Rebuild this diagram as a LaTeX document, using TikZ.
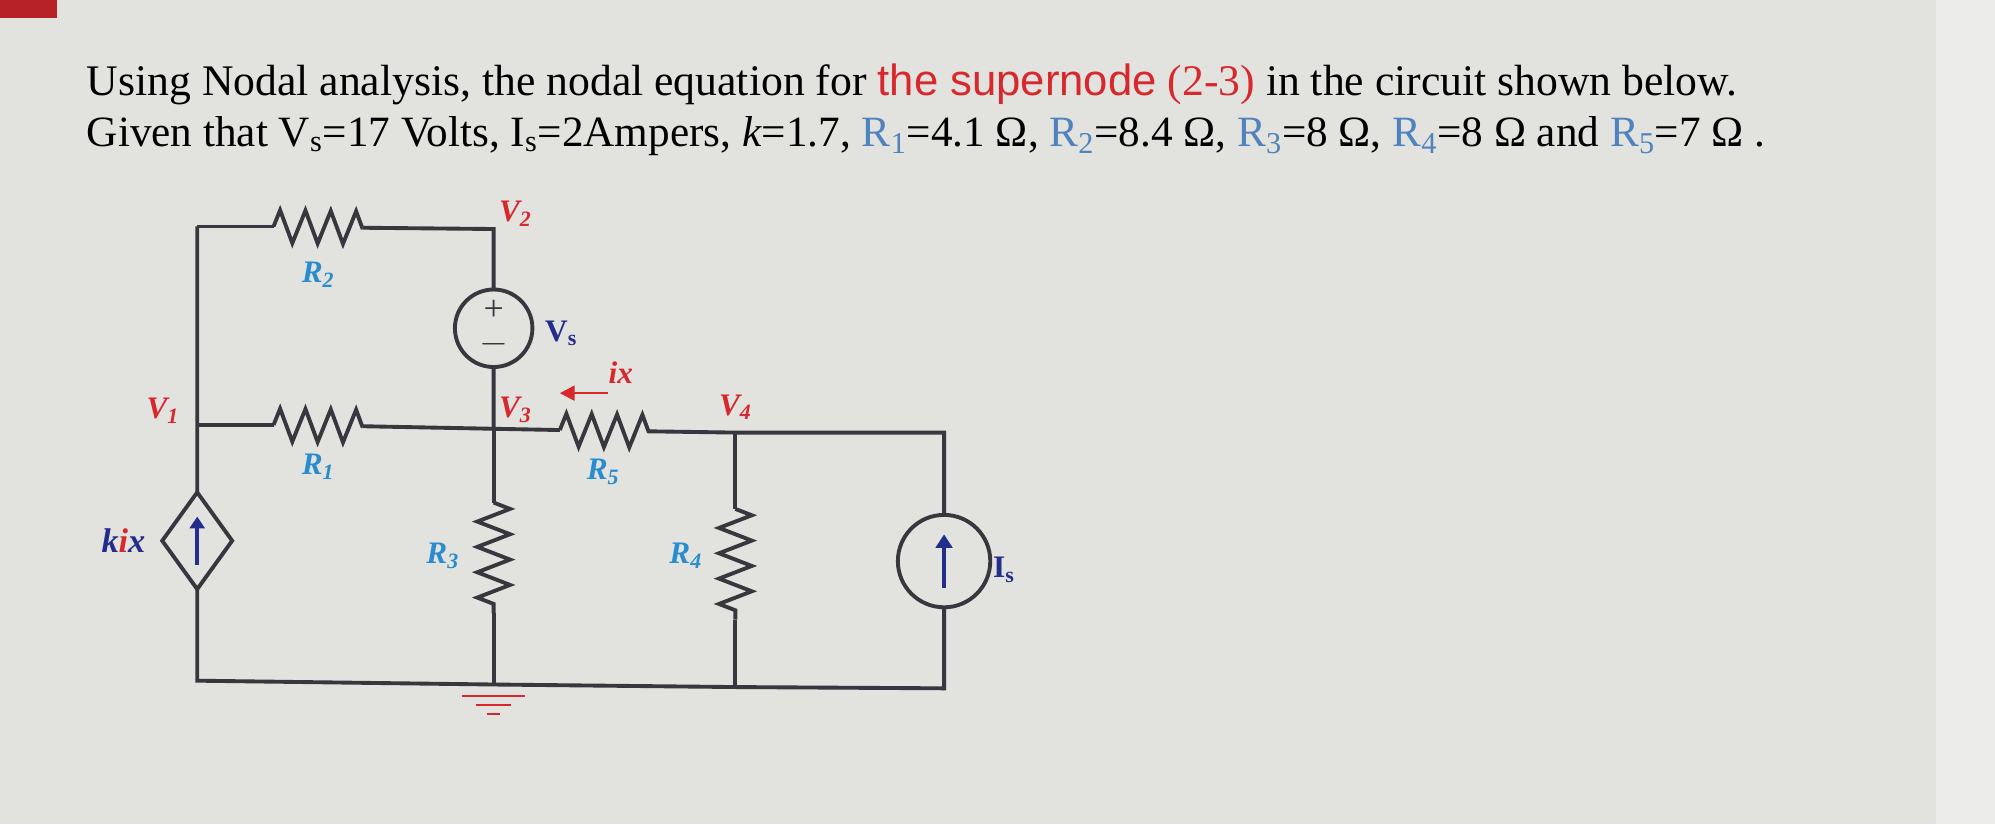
\documentclass[tikz,border=0pt]{standalone}
\usepackage{fontspec}
\setmainfont{Liberation Serif}
\setsansfont{Liberation Sans}
\usetikzlibrary{decorations.pathmorphing,shapes.geometric,arrows.meta}
\definecolor{bg}{RGB}{226,226,223}
\definecolor{wire}{RGB}{55,55,62}
\definecolor{lred}{RGB}{215,40,45}
\definecolor{lblue}{RGB}{40,140,205}
\definecolor{tblue}{RGB}{80,130,190}
\definecolor{dblue}{RGB}{35,45,140}
\newcommand{\Rb}[1]{\textcolor{tblue}{R\textsubscript{#1}}}
\begin{document}
\begin{tikzpicture}[x=0.3mm,y=-0.3mm,
  w/.style={draw=wire,line width=2.6pt},
  res/.style={w,decorate,decoration={zigzag,segment length=17pt,amplitude=11pt}},
  nl/.style={text=lred,font=\itshape\bfseries\fontsize{21}{21}\selectfont,inner sep=0},
  rl/.style={text=lblue,font=\itshape\bfseries\fontsize{21}{21}\selectfont,inner sep=0},
  src/.style={circle,draw=wire,line width=2.6pt,minimum size=#1,inner sep=0,fill=bg}]
\fill[bg] (0,0) rectangle (1568,648);
\useasboundingbox (0,0) rectangle (1568,648);
\fill[white,opacity=0.35] (1522,0) rectangle (1568,648);
\fill[lred!85!black] (0,0) rectangle (45,14);
% title
\node[anchor=base west,inner sep=0,font=\fontsize{29.3}{29}\selectfont] (t1) at (68,75)
 {Using Nodal analysis, the nodal equation for \textcolor{lred}{\sffamily the supernode} \textcolor{lred}{(2-3)} in the circuit shown below.};
\node[anchor=base west,inner sep=0,font=\fontsize{29}{29}\selectfont] (t2) at (68,115)
 {Given that V\textsubscript{s}=17 Volts, I\textsubscript{s}=2Ampers, \textit{k}=1.7, \Rb{1}=4.1 Ω, \Rb{2}=8.4 Ω, \Rb{3}=8 Ω, \Rb{4}=8 Ω and \Rb{5}=7 Ω .};
% coordinates
\coordinate (TL) at (155,178);
\coordinate (V2) at (388,180);
\coordinate (V1) at (155,334);
\coordinate (V3) at (388,337);
\coordinate (V4) at (578,340);
\coordinate (RT) at (742,340);
\coordinate (BL) at (155,535);
\coordinate (B3) at (388,538);
\coordinate (B4) at (578,540);
\coordinate (BR) at (742,541);
% top branch
\draw[w] (TL) -- (215,178);
\draw[res] (215,178) -- (285,179);
\draw[w] (285,179) -- (V2) -- (V3);
% mid branch
\draw[w] (V1) -- (215,334);
\draw[res] (215,334) -- (285,335);
\draw[w] (285,335) -- (V3) -- (440,338);
\draw[res] (440,338) -- (510,339);
\draw[w] (510,339) -- (V4) -- (RT) -- (BR) -- (B4) -- (B3) -- (BL) -- (TL);
% verticals
\draw[w] (V3) -- (388,395);
\draw[res] (388,395) -- (388,482);
\draw[w] (388,482) -- (B3);
\draw[w] (V4) -- (578,400);
\draw[res] (578,400) -- (578,487);
\draw[w] (578,487) -- (B4);
% sources
\node[src=52] (vs) at (388,258) {};
\node[inner sep=0,font=\fontsize{24}{24}\selectfont,text=wire,align=center] (vpm) at (388,258) {+\\[-2pt]$-$};
\node[diamond,draw=wire,line width=2.6pt,fill=bg,minimum width=48,minimum height=66,inner sep=0] (kd) at (155,425) {};
\draw[-{Triangle[length=8pt,width=10pt]},dblue,line width=3pt] (155,444) -- (155,406);
\node[src=62] (is) at (742,441) {};
\draw[-{Triangle[length=9pt,width=11pt]},dblue,line width=3.2pt] (742,462) -- (742,420);
% ground
\draw[lred,line width=1.6pt] (363,547) -- (413,547) (374,554) -- (402,554) (383,561) -- (393,561);
% ix arrow
\draw[-{Triangle[length=10pt,width=10pt]},lred,line width=1.8pt] (478,309) -- (440,309);
% labels
\node[nl] at (405,168) {V\textsubscript{2}};
\node[nl] at (128,323) {V\textsubscript{1}};
\node[nl] at (405,322) {V\textsubscript{3}};
\node[nl] at (578,320) {V\textsubscript{4}};
\node[nl] at (488,293) {ix};
\node[rl] at (250,216) {R\textsubscript{2}};
\node[rl] at (250,367) {R\textsubscript{1}};
\node[rl] at (474,371) {R\textsubscript{5}};
\node[rl] at (348,437) {R\textsubscript{3}};
\node[rl] at (539,437) {R\textsubscript{4}};
\node[inner sep=0,font=\bfseries\fontsize{21}{21}\selectfont,text=dblue] at (441,262) {V\textsubscript{s}};
\node[inner sep=0,font=\bfseries\fontsize{21}{21}\selectfont,text=dblue] at (789,448) {I\textsubscript{s}};
\node[inner sep=0,font=\bfseries\fontsize{23}{23}\selectfont] at (97,425) {\textcolor{dblue}{\itshape k}\textcolor{lred}{\itshape i}\textcolor{dblue}{\itshape x}};
\end{tikzpicture}
\end{document}
